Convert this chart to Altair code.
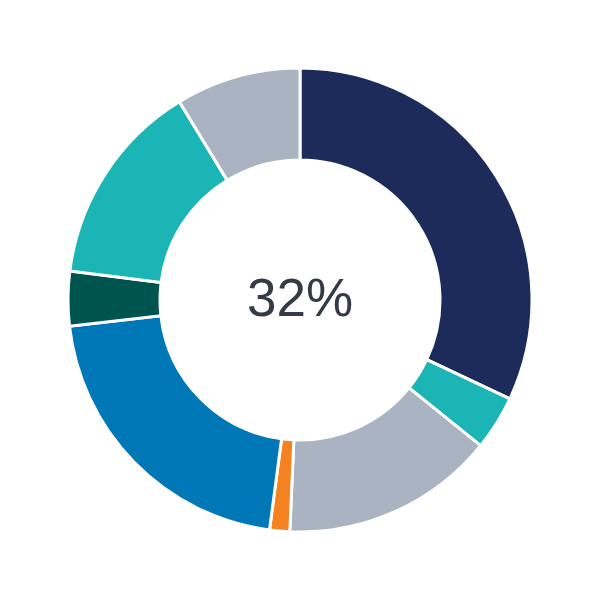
import altair as alt
import pandas as pd

categories = ["A", "B", "C", "D", "E", "F", "G", "H"]
values = [32.0, 3.8, 14.9, 1.4, 21.1, 3.8, 14.3, 8.7]
colors = ["#1c2b5a", "#1bb5b5", "#a9b3c1", "#f58220", "#0077b6", "#005450", "#1bb5b5", "#a9b3c1"]
center_label = ["32%"]

df = pd.DataFrame({"cat": categories, "value": values, "order": list(range(len(values)))})

arcs = alt.Chart(df).mark_arc(outerRadius=232, innerRadius=140, stroke="white", strokeWidth=3).encode(
    theta=alt.Theta("value:Q", stack=True),
    order=alt.Order("order:Q"),
    color=alt.Color("cat:N", scale=alt.Scale(domain=categories, range=colors), legend=None),
)

text = alt.Chart(pd.DataFrame({"t": center_label})).mark_text(
    fontSize=53, font="Liberation Sans", color="#353b45", baseline="middle", align="center"
).encode(text="t:N", x=alt.value(292), y=alt.value(292))

chart = alt.layer(arcs, text).properties(
    width=584, height=584, padding=0, autosize=alt.AutoSizeParams(type="none")
).configure_view(stroke=None)

chart.save("out.html", embed_options={"renderer": "svg", "actions": False})
